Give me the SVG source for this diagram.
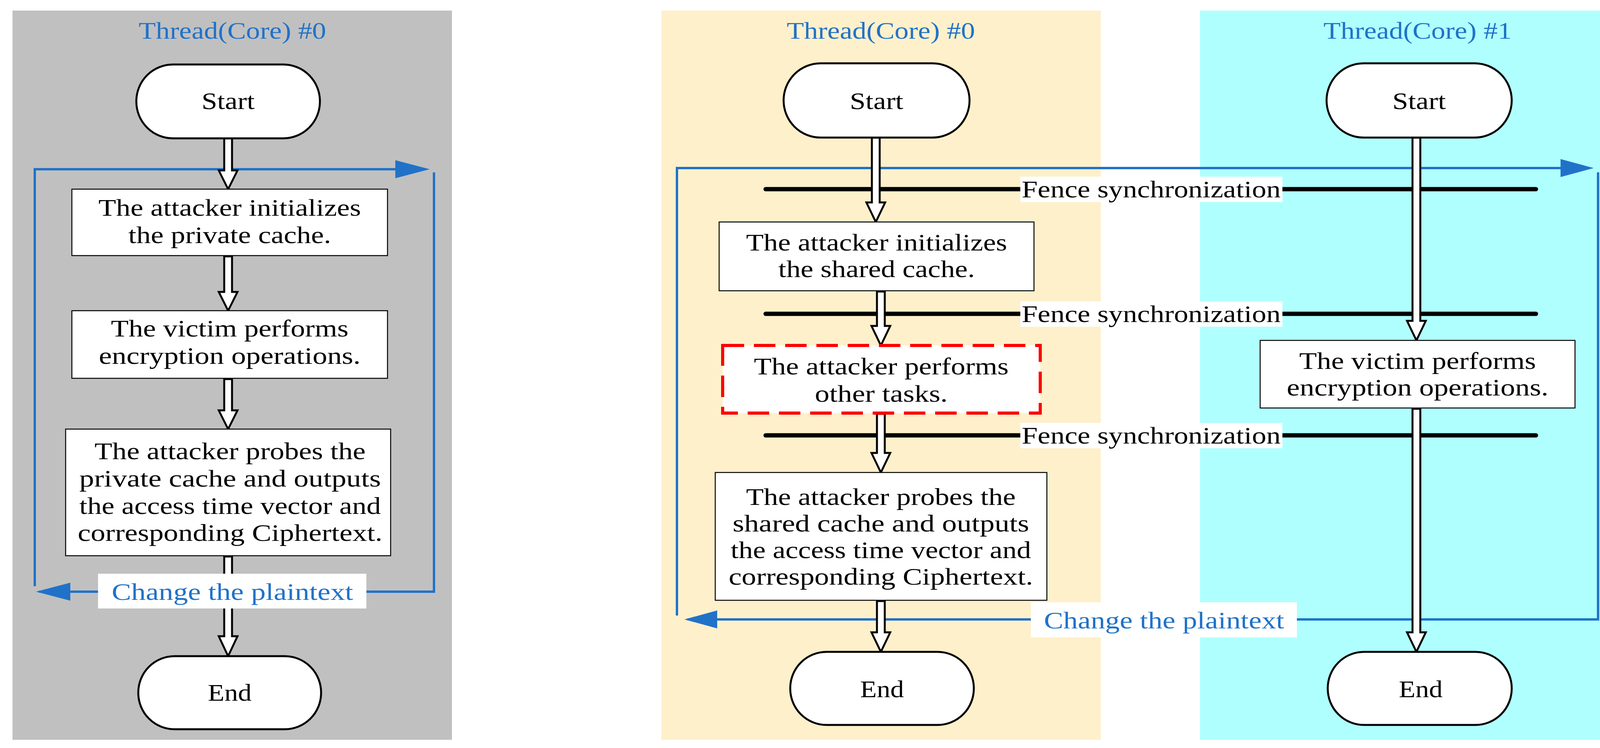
<svg xmlns="http://www.w3.org/2000/svg" width="4224" height="1914" viewBox="0 0 4224 1914">
<style>
.t{font-family:"Liberation Serif","DejaVu Serif",serif;font-size:61px;fill:#000;text-anchor:middle}
.r{font-size:62px}
.b{fill:#2072c8}
.box{fill:#fff;stroke:#000;stroke-width:2.5}
.term{fill:#fff;stroke:#000;stroke-width:5}
.arr{fill:#fff;stroke:#000;stroke-width:5;stroke-linejoin:miter}
.loop{fill:none;stroke:#2072c8;stroke-width:6}
.fence{stroke:#000;stroke-width:11;stroke-linecap:round}
</style>
<rect x="32" y="27" width="1125" height="1866" fill="#c0c0c0"/>
<rect x="1693" y="27" width="1125" height="1866" fill="#fef0cb"/>
<rect x="3072" y="27" width="1125" height="1866" fill="#b0ffff"/>
<text class="t b" x="595" y="99" textLength="480" lengthAdjust="spacingAndGlyphs">Thread(Core) #0</text>
<text class="t b r" x="2255" y="99" textLength="482" lengthAdjust="spacingAndGlyphs">Thread(Core) #0</text>
<text class="t b r" x="3629" y="99" textLength="482" lengthAdjust="spacingAndGlyphs">Thread(Core) #1</text>
<g id="connectors">
<path class="loop" d="M89,1500 V433 H1090 M1111,441 V1514 H100 M1733,1575 V430 H4070 M4091,441 V1585 H1760"/>
<polygon fill="#2072c8" points="1100,433 1012,410 1012,456"/>
<polygon fill="#2072c8" points="92,1514 180,1491 180,1537"/>
<polygon fill="#2072c8" points="4080,430 3995,407 3995,453"/>
<polygon fill="#2072c8" points="1752,1585 1836,1562 1836,1608"/>
<line class="fence" x1="1960" y1="484" x2="3932" y2="484"/>
<line class="fence" x1="1960" y1="803" x2="3932" y2="803"/>
<line class="fence" x1="1960" y1="1114" x2="3932" y2="1114"/>
<path class="arr" d="M574,354H594V436H608L584,484L560,436H574Z"/>
<path class="arr" d="M574,656H594V747H608L584,795L560,747H574Z"/>
<path class="arr" d="M574,970H594V1050H608L584,1098L560,1050H574Z"/>
<path class="arr" d="M574,1424H594V1628H608L584,1679L560,1628H574Z"/>
<path class="arr" d="M2232,352H2252V518H2266L2242,568L2218,518H2232Z"/>
<path class="arr" d="M2245,746H2265V834H2279L2255,884L2231,834H2245Z"/>
<path class="arr" d="M2245,1059H2265V1159H2279L2255,1209L2231,1159H2245Z"/>
<path class="arr" d="M2245,1538H2265V1618H2279L2255,1668L2231,1618H2245Z"/>
<path class="arr" d="M3616,352H3636V821H3650L3626,871L3602,821H3616Z"/>
<path class="arr" d="M3616,1046H3636V1618H3650L3626,1668L3602,1618H3616Z"/>
<rect x="251" y="1468" width="687" height="89" fill="#fff"/>
<text class="t b" x="595" y="1535" textLength="618" lengthAdjust="spacingAndGlyphs">Change the plaintext</text>
<rect x="2639" y="1541" width="681" height="90" fill="#fff"/>
<text class="t b r" x="2980" y="1608" textLength="615" lengthAdjust="spacingAndGlyphs">Change the plaintext</text>
<g fill="#fff"><rect x="2612" y="452" width="671" height="65"/><rect x="2612" y="771" width="671" height="65"/><rect x="2612" y="1082" width="671" height="65"/></g>
<text class="t r" x="2947" y="505" textLength="663" lengthAdjust="spacingAndGlyphs">Fence synchronization</text>
<text class="t r" x="2947" y="824" textLength="663" lengthAdjust="spacingAndGlyphs">Fence synchronization</text>
<text class="t r" x="2947" y="1135" textLength="663" lengthAdjust="spacingAndGlyphs">Fence synchronization</text>
</g>
<g id="start0"><rect class="term" x="349" y="165" width="470" height="189" rx="94"/><text class="t" x="584" y="279" textLength="136" lengthAdjust="spacingAndGlyphs">Start</text></g>
<g id="box1"><rect class="box" x="184" y="484" width="808" height="170"/><text class="t" x="588" y="552" textLength="672" lengthAdjust="spacingAndGlyphs">The attacker initializes</text><text class="t" x="588" y="622" textLength="519" lengthAdjust="spacingAndGlyphs">the private cache.</text></g>
<g id="box2"><rect class="box" x="184" y="795" width="808" height="173"/><text class="t" x="588" y="861" textLength="608" lengthAdjust="spacingAndGlyphs">The victim performs</text><text class="t" x="588" y="931" textLength="670" lengthAdjust="spacingAndGlyphs">encryption operations.</text></g>
<g id="box3"><rect class="box" x="168" y="1098" width="832" height="324"/>
<text class="t" x="589" y="1175" textLength="694" lengthAdjust="spacingAndGlyphs">The attacker probes the</text>
<text class="t" x="589" y="1245" textLength="772" lengthAdjust="spacingAndGlyphs">private cache and outputs</text>
<text class="t" x="589" y="1315" textLength="772" lengthAdjust="spacingAndGlyphs">the access time vector and</text>
<text class="t" x="589" y="1384" textLength="780" lengthAdjust="spacingAndGlyphs">corresponding Ciphertext.</text></g>
<g id="end0"><rect class="term" x="354" y="1679" width="468" height="187" rx="93"/><text class="t" x="588" y="1793" textLength="112" lengthAdjust="spacingAndGlyphs">End</text></g>
<g id="startA"><rect class="term" x="2006" y="162" width="476" height="190" rx="95"/><text class="t r" x="2244" y="279" textLength="137" lengthAdjust="spacingAndGlyphs">Start</text></g>
<g id="boxA1"><rect class="box" x="1841" y="568" width="806" height="176"/><text class="t r" x="2244" y="641" textLength="668" lengthAdjust="spacingAndGlyphs">The attacker initializes</text><text class="t r" x="2244" y="709" textLength="503" lengthAdjust="spacingAndGlyphs">the shared cache.</text></g>
<g id="boxA2"><rect x="1850" y="884" width="813" height="173" fill="#fff" stroke="#f00" stroke-width="8" stroke-dasharray="55 25"/><text class="t r" x="2256" y="958" textLength="652" lengthAdjust="spacingAndGlyphs">The attacker performs</text><text class="t r" x="2256" y="1028" textLength="340" lengthAdjust="spacingAndGlyphs">other tasks.</text></g>
<g id="boxA3"><rect class="box" x="1831" y="1209" width="849" height="327"/>
<text class="t r" x="2255" y="1292" textLength="690" lengthAdjust="spacingAndGlyphs">The attacker probes the</text>
<text class="t r" x="2255" y="1360" textLength="759" lengthAdjust="spacingAndGlyphs">shared cache and outputs</text>
<text class="t r" x="2255" y="1428" textLength="769" lengthAdjust="spacingAndGlyphs">the access time vector and</text>
<text class="t r" x="2255" y="1496" textLength="779" lengthAdjust="spacingAndGlyphs">corresponding Ciphertext.</text></g>
<g id="endA"><rect class="term" x="2023" y="1668" width="470" height="187" rx="93"/><text class="t r" x="2258" y="1784" textLength="112" lengthAdjust="spacingAndGlyphs">End</text></g>
<g id="startB"><rect class="term" x="3396" y="162" width="474" height="190" rx="95"/><text class="t r" x="3633" y="279" textLength="137" lengthAdjust="spacingAndGlyphs">Start</text></g>
<g id="boxB"><rect class="box" x="3226" y="871" width="806" height="173"/><text class="t r" x="3629" y="944" textLength="606" lengthAdjust="spacingAndGlyphs">The victim performs</text><text class="t r" x="3629" y="1012" textLength="670" lengthAdjust="spacingAndGlyphs">encryption operations.</text></g>
<g id="endB"><rect class="term" x="3399" y="1668" width="471" height="187" rx="93"/><text class="t r" x="3637" y="1784" textLength="112" lengthAdjust="spacingAndGlyphs">End</text></g>
</svg>
